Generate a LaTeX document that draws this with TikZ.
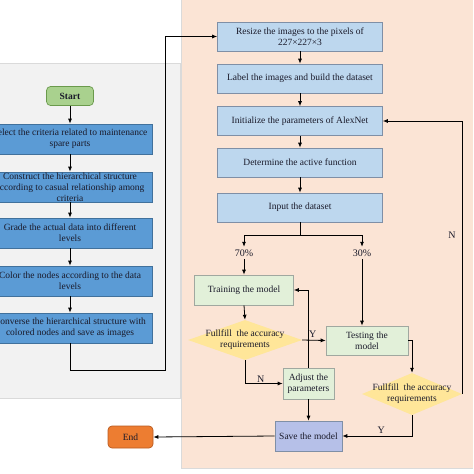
\documentclass[tikz,border=0pt]{standalone}
\usepackage{fontspec}
\setmainfont{Liberation Serif}
\usetikzlibrary{shapes.geometric,arrows.meta}
\definecolor{lblue}{HTML}{5B9BD5}
\definecolor{lbluedk}{HTML}{41719C}
\definecolor{sgreen}{HTML}{A9D18E}
\definecolor{sgreendk}{HTML}{6A9A4C}
\definecolor{rblue}{HTML}{BDD7EE}
\definecolor{rbluedk}{HTML}{7F8FA6}
\definecolor{gbox}{HTML}{E2F0D9}
\definecolor{gboxdk}{HTML}{A0A8A0}
\definecolor{ydia}{HTML}{FFE699}
\definecolor{savec}{HTML}{B6C0E8}
\definecolor{endc}{HTML}{ED7D31}
\definecolor{enddk}{HTML}{B85A20}
\definecolor{peach}{HTML}{FBE4D5}
\definecolor{graypan}{HTML}{F2F2F2}
\definecolor{panline}{HTML}{DADADA}
\definecolor{txt}{HTML}{1A1A2A}
\begin{document}
\begin{tikzpicture}[x=1pt,y=-1pt,
  every node/.style={font=\fontsize{9.5}{11}\selectfont, text=txt, align=center, inner sep=0pt},
  lbox/.style={draw=lbluedk, fill=lblue, line width=0.7pt, minimum width=164pt, minimum height=30pt},
  rbox/.style={draw=rbluedk, fill=rblue, line width=0.6pt, minimum width=165pt, minimum height=29pt},
  gboxs/.style={draw=gboxdk, fill=gbox, line width=0.6pt},
  dia/.style={diamond, fill=ydia},
  arr/.style={-{Latex[length=5pt,width=4pt]}, line width=0.8pt, black},
  ln/.style={line width=0.8pt, black},
  lab/.style={font=\fontsize{10}{12}\selectfont}
]
\useasboundingbox (0,0) rectangle (474,474);
\clip (0,0) rectangle (474,474);
% panels
\fill[graypan] (-5,63) rectangle (180,398);
\draw[panline, line width=0.5pt] (-5,63) -- (180,63) -- (180,398) -- (-5,398);
\fill[peach] (181,-5) rectangle (473,468);
\draw[panline, line width=0.5pt] (181,-5) -- (181,468) -- (473,468);
% left column
\node[draw=sgreendk, fill=sgreen, rounded corners=4pt, line width=0.7pt, minimum width=47pt, minimum height=19pt] (start) at (70,96) {\bfseries Start};
\node[lbox] (b1) at (70,139) {Select the criteria related to maintenance\\spare parts};
\node[lbox] (b2) at (70,187) {};
\node at (b2) {Construct the hierarchical structure\\according to casual relationship among\\criteria};
\node[lbox] (b3) at (70,233) {Grade the actual data into different\\levels};
\node[lbox] (b4) at (70,281) {Color the nodes according to the data\\levels};
\node[lbox] (b5) at (70,328) {Converse the hierarchical structure with\\colored nodes and save as images};
\coordinate (c1) at (165,370);
% right column
\node[rbox] (r1) at (300,36.5) {Resize the images to the pixels of\\227×227×3};
\node[rbox] (r2) at (300,78.5) {Label the images and build the dataset};
\node[rbox] (r3) at (300,121) {Initialize the parameters of AlexNet};
\node[rbox] (r4) at (300,162.5) {Determine the active function};
\node[rbox] (r5) at (300,207.5) {Input the dataset};
\coordinate (split) at (300,235);
\node[lab, minimum height=12pt] (p70) at (244,253) {70\%};
\node[lab, minimum height=12pt] (p30) at (362,253) {30\%};
\node[gboxs, minimum width=99pt, minimum height=30pt] (train) at (244,290) {Training the model};
\node[dia, minimum width=114pt, minimum height=40pt] (d1) at (245,340) {};
\node at (d1) {Fullfill\ \ the accuracy\\requirements};
\node[gboxs, minimum width=82pt, minimum height=29pt] (test) at (367,340.5) {Testing the\\model};
\node[dia, minimum width=100pt, minimum height=42pt] (d2) at (412,394) {};
\node at (d2) {Fullfill\ \ the accuracy\\requirements};
\node[gboxs, minimum width=51pt, minimum height=31pt] (adj) at (308.5,383.5) {Adjust the\\parameters};
\node[draw=rbluedk, fill=savec, line width=0.6pt, minimum width=67pt, minimum height=30pt] (save) at (308.5,436) {Save the model};
\node[draw=enddk, fill=endc, rounded corners=4pt, line width=0.7pt, minimum width=45pt, minimum height=22pt] (end) at (130.5,437) {End};
% connectors left
\draw[arr] (start) -- (b1);
\draw[arr] (b1) -- (b2);
\draw[arr] (b2) -- (b3);
\draw[arr] (b3) -- (b4);
\draw[arr] (b4) -- (b5);
\draw[arr] (b5.south) |- (c1) |- (r1.west);
% connectors right
\draw[arr] (r1) -- (r2);
\draw[arr] (r2) -- (r3);
\draw[arr] (r3) -- (r4);
\draw[arr] (r4) -- (r5);
\draw[ln] (r5.south) -- (split);
\draw[arr] (split) -| (p70.north);
\draw[arr] (split) -| (p30.north);
\draw[arr] (p70.south) -- (train.north);
\draw[arr] (train.south) -- (d1.north);
\draw[arr] (adj.north) |- (train.east);
\draw[arr] (d1.east) -- node[lab, pos=0.45, above=2pt] (ly1) {Y} (test.west);
\draw[arr] (p30.south) -- (p30.south |- test.north);
\draw[arr] (test.east) -| (d2.north);
\draw[arr] (d2.east) |- (r3.east);
\node[lab] (ln1) at (452,235) {N};
\draw[arr] (d2.south) |- node[lab, pos=0.72, above=2pt] (ly2) {Y} (save.east);
\draw[arr] (d1.south) |- node[lab, pos=0.71, above=1pt] (ln2) {N} (adj.west);
\draw[arr] (adj.south) -- (save.north);
\draw[arr] (save.west) -- (end.east);
\end{tikzpicture}
\end{document}
